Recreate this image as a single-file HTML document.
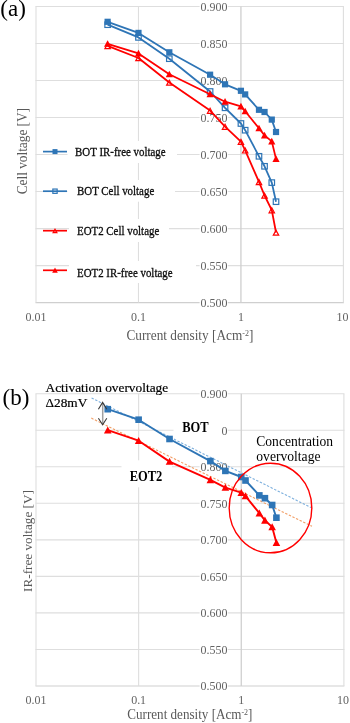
<!DOCTYPE html>
<html><head><meta charset="utf-8"><title>Figure</title><style>
html,body{margin:0;padding:0;background:#fff;}
body{width:350px;height:723px;overflow:hidden;}
svg{display:block;filter:blur(0.35px);}
text{font-family:"Liberation Serif","Times New Roman",serif;}
.ax{font-size:12.96px;fill:#636363;}
.ti{font-size:13px;fill:#595959;}
.lg{font-size:12px;fill:#0d0d0d;stroke:#0d0d0d;stroke-width:0.3px;}
.an{font-size:14px;fill:#000;}
.bd{font-size:15.6px;fill:#000;font-weight:bold;}
</style></head><body>
<svg width="350" height="723" viewBox="0 0 350 723">
<rect width="350" height="723" fill="#fff"/>
<g id="chart-a">
<line x1="35.5" y1="6.50" x2="343.9" y2="6.50" stroke="#dedede" stroke-width="1.1"/>
<line x1="35.5" y1="43.51" x2="343.9" y2="43.51" stroke="#dedede" stroke-width="1.1"/>
<line x1="35.5" y1="80.53" x2="343.9" y2="80.53" stroke="#dedede" stroke-width="1.1"/>
<line x1="35.5" y1="117.54" x2="343.9" y2="117.54" stroke="#dedede" stroke-width="1.1"/>
<line x1="35.5" y1="154.55" x2="343.9" y2="154.55" stroke="#dedede" stroke-width="1.1"/>
<line x1="35.5" y1="191.56" x2="343.9" y2="191.56" stroke="#dedede" stroke-width="1.1"/>
<line x1="35.5" y1="228.58" x2="343.9" y2="228.58" stroke="#dedede" stroke-width="1.1"/>
<line x1="35.5" y1="265.59" x2="343.9" y2="265.59" stroke="#dedede" stroke-width="1.1"/>
<line x1="35.5" y1="302.60" x2="343.9" y2="302.60" stroke="#cfcfcf" stroke-width="1.1"/>
<line x1="36.00" y1="6.50" x2="36.00" y2="302.60" stroke="#dedede" stroke-width="1.1"/>
<line x1="138.47" y1="6.50" x2="138.47" y2="302.60" stroke="#dedede" stroke-width="1.1"/>
<line x1="343.40" y1="6.50" x2="343.40" y2="302.60" stroke="#dedede" stroke-width="1.1"/>
<line x1="240.93" y1="6.50" x2="240.93" y2="302.60" stroke="#cfcfcf" stroke-width="1.3"/>
<rect x="199.6" y="1.50" width="28.2" height="10" fill="#fff"/>
<text transform="translate(227.5,10.90) scale(0.926,1)" text-anchor="end" class="ax">0.900</text>
<rect x="199.6" y="38.51" width="28.2" height="10" fill="#fff"/>
<text transform="translate(227.5,47.91) scale(0.926,1)" text-anchor="end" class="ax">0.850</text>
<rect x="199.6" y="75.53" width="28.2" height="10" fill="#fff"/>
<text transform="translate(227.5,84.93) scale(0.926,1)" text-anchor="end" class="ax">0.800</text>
<rect x="199.6" y="112.54" width="28.2" height="10" fill="#fff"/>
<text transform="translate(227.5,121.94) scale(0.926,1)" text-anchor="end" class="ax">0.750</text>
<rect x="199.6" y="149.55" width="28.2" height="10" fill="#fff"/>
<text transform="translate(227.5,158.95) scale(0.926,1)" text-anchor="end" class="ax">0.700</text>
<rect x="199.6" y="186.56" width="28.2" height="10" fill="#fff"/>
<text transform="translate(227.5,195.96) scale(0.926,1)" text-anchor="end" class="ax">0.650</text>
<rect x="199.6" y="223.58" width="28.2" height="10" fill="#fff"/>
<text transform="translate(227.5,232.98) scale(0.926,1)" text-anchor="end" class="ax">0.600</text>
<rect x="199.6" y="260.59" width="28.2" height="10" fill="#fff"/>
<text transform="translate(227.5,269.99) scale(0.926,1)" text-anchor="end" class="ax">0.550</text>
<rect x="199.6" y="297.60" width="28.2" height="10" fill="#fff"/>
<text transform="translate(227.5,307.00) scale(0.926,1)" text-anchor="end" class="ax">0.500</text>
<text transform="translate(36.00,320.80) scale(0.926,1)" text-anchor="middle" class="ax">0.01</text>
<text transform="translate(138.47,320.80) scale(0.926,1)" text-anchor="middle" class="ax">0.1</text>
<text transform="translate(240.93,320.80) scale(0.926,1)" text-anchor="middle" class="ax">1</text>
<text transform="translate(342.50,320.80) scale(0.926,1)" text-anchor="middle" class="ax">10</text>
<text transform="translate(126.4,340.2) scale(0.926,1)" class="ti" style="font-size:14.36px">Current density [Acm<tspan dy="-4.3" font-size="8.6">-2</tspan><tspan dy="4.3">]</tspan></text>
<text transform="translate(26.6,194.3) rotate(-90) scale(0.909,1)" class="ti" style="font-size:14.63px">Cell voltage [V]</text>
<text x="0.3" y="15.8" font-size="23" fill="#000">(a)</text>
<polyline points="107.62,24.70 138.47,37.40 169.31,58.70 210.09,91.50 225.06,107.80 240.93,123.50 245.17,130.20 258.98,156.30 264.55,166.30 271.78,182.60 276.02,201.70" fill="none" stroke="#2e75b6" stroke-width="1.8" stroke-linejoin="round"/>
<rect x="104.87" y="21.95" width="5.50" height="5.50" fill="none" stroke="#2e75b6" stroke-width="1.2"/>
<rect x="135.72" y="34.65" width="5.50" height="5.50" fill="none" stroke="#2e75b6" stroke-width="1.2"/>
<rect x="166.56" y="55.95" width="5.50" height="5.50" fill="none" stroke="#2e75b6" stroke-width="1.2"/>
<rect x="207.34" y="88.75" width="5.50" height="5.50" fill="none" stroke="#2e75b6" stroke-width="1.2"/>
<rect x="222.31" y="105.05" width="5.50" height="5.50" fill="none" stroke="#2e75b6" stroke-width="1.2"/>
<rect x="238.18" y="120.75" width="5.50" height="5.50" fill="none" stroke="#2e75b6" stroke-width="1.2"/>
<rect x="242.42" y="127.45" width="5.50" height="5.50" fill="none" stroke="#2e75b6" stroke-width="1.2"/>
<rect x="256.23" y="153.55" width="5.50" height="5.50" fill="none" stroke="#2e75b6" stroke-width="1.2"/>
<rect x="261.80" y="163.55" width="5.50" height="5.50" fill="none" stroke="#2e75b6" stroke-width="1.2"/>
<rect x="269.03" y="179.85" width="5.50" height="5.50" fill="none" stroke="#2e75b6" stroke-width="1.2"/>
<rect x="273.27" y="198.95" width="5.50" height="5.50" fill="none" stroke="#2e75b6" stroke-width="1.2"/>
<polyline points="107.62,21.80 138.47,32.90 169.31,52.30 210.09,74.70 225.06,84.30 240.93,90.80 245.17,94.40 258.98,109.80 264.55,112.00 271.78,119.60 276.02,132.00" fill="none" stroke="#2e75b6" stroke-width="1.8" stroke-linejoin="round"/>
<rect x="104.52" y="18.70" width="6.2" height="6.2" fill="#2e75b6"/>
<rect x="135.37" y="29.80" width="6.2" height="6.2" fill="#2e75b6"/>
<rect x="166.21" y="49.20" width="6.2" height="6.2" fill="#2e75b6"/>
<rect x="206.99" y="71.60" width="6.2" height="6.2" fill="#2e75b6"/>
<rect x="221.96" y="81.20" width="6.2" height="6.2" fill="#2e75b6"/>
<rect x="237.83" y="87.70" width="6.2" height="6.2" fill="#2e75b6"/>
<rect x="242.07" y="91.30" width="6.2" height="6.2" fill="#2e75b6"/>
<rect x="255.88" y="106.70" width="6.2" height="6.2" fill="#2e75b6"/>
<rect x="261.45" y="108.90" width="6.2" height="6.2" fill="#2e75b6"/>
<rect x="268.68" y="116.50" width="6.2" height="6.2" fill="#2e75b6"/>
<rect x="272.92" y="128.90" width="6.2" height="6.2" fill="#2e75b6"/>
<polyline points="107.62,45.90 138.47,58.00 169.31,82.50 210.09,110.60 225.06,126.60 240.93,141.70 245.17,150.30 258.98,181.90 264.55,195.50 271.78,210.10 276.02,232.50" fill="none" stroke="#ff0000" stroke-width="1.8" stroke-linejoin="round"/>
<polygon points="107.62,43.60 110.32,48.59 104.92,48.59" fill="none" stroke="#ff0000" stroke-width="1.2" stroke-linejoin="miter"/>
<polygon points="138.47,55.70 141.17,60.70 135.77,60.70" fill="none" stroke="#ff0000" stroke-width="1.2" stroke-linejoin="miter"/>
<polygon points="169.31,80.20 172.01,85.20 166.61,85.20" fill="none" stroke="#ff0000" stroke-width="1.2" stroke-linejoin="miter"/>
<polygon points="210.09,108.30 212.79,113.30 207.39,113.30" fill="none" stroke="#ff0000" stroke-width="1.2" stroke-linejoin="miter"/>
<polygon points="225.06,124.30 227.76,129.29 222.36,129.29" fill="none" stroke="#ff0000" stroke-width="1.2" stroke-linejoin="miter"/>
<polygon points="240.93,139.40 243.63,144.39 238.23,144.39" fill="none" stroke="#ff0000" stroke-width="1.2" stroke-linejoin="miter"/>
<polygon points="245.17,148.00 247.87,153.00 242.47,153.00" fill="none" stroke="#ff0000" stroke-width="1.2" stroke-linejoin="miter"/>
<polygon points="258.98,179.60 261.68,184.59 256.28,184.59" fill="none" stroke="#ff0000" stroke-width="1.2" stroke-linejoin="miter"/>
<polygon points="264.55,193.20 267.25,198.19 261.85,198.19" fill="none" stroke="#ff0000" stroke-width="1.2" stroke-linejoin="miter"/>
<polygon points="271.78,207.80 274.48,212.79 269.08,212.79" fill="none" stroke="#ff0000" stroke-width="1.2" stroke-linejoin="miter"/>
<polygon points="276.02,230.20 278.72,235.19 273.32,235.19" fill="none" stroke="#ff0000" stroke-width="1.2" stroke-linejoin="miter"/>
<polyline points="107.62,43.80 138.47,53.40 169.31,74.30 210.09,94.20 225.06,101.70 240.93,106.40 245.17,111.30 258.98,128.30 264.55,135.40 271.78,141.40 276.02,158.90" fill="none" stroke="#ff0000" stroke-width="1.8" stroke-linejoin="round"/>
<polygon points="107.62,40.20 111.22,46.86 104.02,46.86" fill="#ff0000"/>
<polygon points="138.47,49.80 142.07,56.46 134.87,56.46" fill="#ff0000"/>
<polygon points="169.31,70.70 172.91,77.36 165.71,77.36" fill="#ff0000"/>
<polygon points="210.09,90.60 213.69,97.26 206.49,97.26" fill="#ff0000"/>
<polygon points="225.06,98.10 228.66,104.76 221.46,104.76" fill="#ff0000"/>
<polygon points="240.93,102.80 244.53,109.46 237.33,109.46" fill="#ff0000"/>
<polygon points="245.17,107.70 248.77,114.36 241.57,114.36" fill="#ff0000"/>
<polygon points="258.98,124.70 262.58,131.36 255.38,131.36" fill="#ff0000"/>
<polygon points="264.55,131.80 268.15,138.46 260.95,138.46" fill="#ff0000"/>
<polygon points="271.78,137.80 275.38,144.46 268.18,144.46" fill="#ff0000"/>
<polygon points="276.02,155.30 279.62,161.96 272.42,161.96" fill="#ff0000"/>
<rect x="67.5" y="141" width="109.5" height="22" fill="#fff"/>
<line x1="43" y1="151.6" x2="67" y2="151.6" stroke="#2e75b6" stroke-width="1.7"/>
<rect x="52.50" y="149.10" width="5.0" height="5.0" fill="#2e75b6"/>
<text transform="translate(75.1,155.8) scale(0.908,1)" class="lg">BOT IR-free voltage</text>
<rect x="67.5" y="180" width="107.5" height="21.69999999999999" fill="#fff"/>
<line x1="43" y1="191.2" x2="67" y2="191.2" stroke="#2e75b6" stroke-width="1.7"/>
<rect x="52.85" y="189.05" width="4.30" height="4.30" fill="none" stroke="#2e75b6" stroke-width="1.2"/>
<text transform="translate(77.0,194.5) scale(0.908,1)" class="lg">BOT Cell voltage</text>
<rect x="69" y="219" width="100" height="23" fill="#fff"/>
<line x1="43" y1="230.7" x2="67" y2="230.7" stroke="#ff0000" stroke-width="1.7"/>
<polygon points="55.00,229.20 56.90,232.72 53.10,232.72" fill="none" stroke="#ff0000" stroke-width="1.2" stroke-linejoin="miter"/>
<text transform="translate(77.0,234.8) scale(0.908,1)" class="lg">EOT2 Cell voltage</text>
<rect x="69" y="261" width="127" height="22" fill="#fff"/>
<line x1="43" y1="270.3" x2="67" y2="270.3" stroke="#ff0000" stroke-width="1.7"/>
<polygon points="55.00,267.50 57.80,272.68 52.20,272.68" fill="#ff0000"/>
<text transform="translate(77.0,276.5) scale(0.908,1)" class="lg">EOT2 IR-free voltage</text>
</g>
<g id="chart-b">
<line x1="35.5" y1="393.70" x2="344.4" y2="393.70" stroke="#dedede" stroke-width="1.1"/>
<line x1="35.5" y1="430.24" x2="344.4" y2="430.24" stroke="#dedede" stroke-width="1.1"/>
<line x1="35.5" y1="466.77" x2="344.4" y2="466.77" stroke="#dedede" stroke-width="1.1"/>
<line x1="35.5" y1="503.31" x2="344.4" y2="503.31" stroke="#dedede" stroke-width="1.1"/>
<line x1="35.5" y1="539.85" x2="344.4" y2="539.85" stroke="#dedede" stroke-width="1.1"/>
<line x1="35.5" y1="576.39" x2="344.4" y2="576.39" stroke="#dedede" stroke-width="1.1"/>
<line x1="35.5" y1="612.92" x2="344.4" y2="612.92" stroke="#dedede" stroke-width="1.1"/>
<line x1="35.5" y1="649.46" x2="344.4" y2="649.46" stroke="#dedede" stroke-width="1.1"/>
<line x1="35.5" y1="686.00" x2="344.4" y2="686.00" stroke="#cfcfcf" stroke-width="1.1"/>
<line x1="36.00" y1="393.70" x2="36.00" y2="686.00" stroke="#dedede" stroke-width="1.1"/>
<line x1="138.63" y1="393.70" x2="138.63" y2="686.00" stroke="#dedede" stroke-width="1.1"/>
<line x1="343.90" y1="393.70" x2="343.90" y2="686.00" stroke="#dedede" stroke-width="1.1"/>
<line x1="241.27" y1="393.70" x2="241.27" y2="686.00" stroke="#cfcfcf" stroke-width="1.3"/>
<rect x="199.6" y="388.70" width="28.2" height="10" fill="#fff"/>
<text transform="translate(227.5,398.10) scale(0.926,1)" text-anchor="end" class="ax">0.900</text>
<rect x="199.6" y="425.24" width="28.2" height="10" fill="#fff"/>
<text transform="translate(227.5,434.64) scale(0.926,1)" text-anchor="end" class="ax">0.850</text>
<rect x="199.6" y="461.77" width="28.2" height="10" fill="#fff"/>
<text transform="translate(227.5,471.17) scale(0.926,1)" text-anchor="end" class="ax">0.800</text>
<rect x="199.6" y="498.31" width="28.2" height="10" fill="#fff"/>
<text transform="translate(227.5,507.71) scale(0.926,1)" text-anchor="end" class="ax">0.750</text>
<rect x="199.6" y="534.85" width="28.2" height="10" fill="#fff"/>
<text transform="translate(227.5,544.25) scale(0.926,1)" text-anchor="end" class="ax">0.700</text>
<rect x="199.6" y="571.39" width="28.2" height="10" fill="#fff"/>
<text transform="translate(227.5,580.79) scale(0.926,1)" text-anchor="end" class="ax">0.650</text>
<rect x="199.6" y="607.92" width="28.2" height="10" fill="#fff"/>
<text transform="translate(227.5,617.32) scale(0.926,1)" text-anchor="end" class="ax">0.600</text>
<rect x="199.6" y="644.46" width="28.2" height="10" fill="#fff"/>
<text transform="translate(227.5,653.86) scale(0.926,1)" text-anchor="end" class="ax">0.550</text>
<rect x="199.6" y="681.00" width="28.2" height="10" fill="#fff"/>
<text transform="translate(227.5,690.40) scale(0.926,1)" text-anchor="end" class="ax">0.500</text>
<text transform="translate(36.00,703.60) scale(0.926,1)" text-anchor="middle" class="ax">0.01</text>
<text transform="translate(138.63,703.60) scale(0.926,1)" text-anchor="middle" class="ax">0.1</text>
<text transform="translate(241.27,703.60) scale(0.926,1)" text-anchor="middle" class="ax">1</text>
<text transform="translate(343.00,703.60) scale(0.926,1)" text-anchor="middle" class="ax">10</text>
<text transform="translate(127.3,719.4) scale(0.926,1)" class="ti" style="font-size:14.15px">Current density [Acm<tspan dy="-4.3" font-size="8.6">-2</tspan><tspan dy="4.3">]</tspan></text>
<text transform="translate(32.4,591.9) rotate(-90)" class="ti" style="font-size:13.2px">IR-free voltage [V]</text>
<text x="2.6" y="404.8" font-size="23" fill="#000">(b)</text>
<rect x="173.5" y="418" width="48" height="22" fill="#fff"/>
<rect x="121.5" y="460.3" width="50.5" height="27" fill="#fff"/>
<line x1="91.6" y1="398.0" x2="311.5" y2="507.8" stroke="#5b9bd5" stroke-opacity="0.8" stroke-width="1.1" stroke-dasharray="2.4 1.6"/>
<line x1="91.3" y1="418.1" x2="312.0" y2="526.3" stroke="#ed7d31" stroke-opacity="0.75" stroke-width="1.1" stroke-dasharray="2.4 1.6"/>
<polyline points="107.74,409.20 138.63,419.70 169.53,439.00 210.37,461.10 225.37,470.90 241.27,477.00 245.51,480.50 259.34,495.40 264.92,498.20 272.16,505.00 276.41,517.70" fill="none" stroke="#2e75b6" stroke-width="1.9" stroke-linejoin="round"/>
<rect x="104.44" y="405.90" width="6.6" height="6.6" fill="#2e75b6"/>
<rect x="135.33" y="416.40" width="6.6" height="6.6" fill="#2e75b6"/>
<rect x="166.23" y="435.70" width="6.6" height="6.6" fill="#2e75b6"/>
<rect x="207.07" y="457.80" width="6.6" height="6.6" fill="#2e75b6"/>
<rect x="222.07" y="467.60" width="6.6" height="6.6" fill="#2e75b6"/>
<rect x="237.97" y="473.70" width="6.6" height="6.6" fill="#2e75b6"/>
<rect x="242.21" y="477.20" width="6.6" height="6.6" fill="#2e75b6"/>
<rect x="256.04" y="492.10" width="6.6" height="6.6" fill="#2e75b6"/>
<rect x="261.62" y="494.90" width="6.6" height="6.6" fill="#2e75b6"/>
<rect x="268.86" y="501.70" width="6.6" height="6.6" fill="#2e75b6"/>
<rect x="273.11" y="514.40" width="6.6" height="6.6" fill="#2e75b6"/>
<polyline points="107.74,430.20 138.63,440.70 169.53,461.60 210.37,479.90 225.37,487.60 241.27,492.70 245.51,496.10 259.34,513.20 264.92,520.40 272.16,527.00 276.41,542.70" fill="none" stroke="#ff0000" stroke-width="1.9" stroke-linejoin="round"/>
<polygon points="107.74,426.40 111.54,433.43 103.94,433.43" fill="#ff0000"/>
<polygon points="138.63,436.90 142.43,443.93 134.83,443.93" fill="#ff0000"/>
<polygon points="169.53,457.80 173.33,464.83 165.73,464.83" fill="#ff0000"/>
<polygon points="210.37,476.10 214.17,483.13 206.57,483.13" fill="#ff0000"/>
<polygon points="225.37,483.80 229.17,490.83 221.57,490.83" fill="#ff0000"/>
<polygon points="241.27,488.90 245.07,495.93 237.47,495.93" fill="#ff0000"/>
<polygon points="245.51,492.30 249.31,499.33 241.71,499.33" fill="#ff0000"/>
<polygon points="259.34,509.40 263.14,516.43 255.54,516.43" fill="#ff0000"/>
<polygon points="264.92,516.60 268.72,523.63 261.12,523.63" fill="#ff0000"/>
<polygon points="272.16,523.20 275.96,530.23 268.36,530.23" fill="#ff0000"/>
<polygon points="276.41,538.90 280.21,545.93 272.61,545.93" fill="#ff0000"/>
<text x="45.5" y="391.5" class="an" style="font-size:13.35px;stroke:#000;stroke-width:0.2px">Activation overvoltage</text>
<text x="45.5" y="407" class="an" style="font-size:13.3px;stroke:#000;stroke-width:0.2px">Δ28mV</text>
<text transform="translate(182.2,431.6) scale(0.8,1)" class="bd">BOT</text>
<text transform="translate(129.8,480.6) scale(0.8,1)" class="bd">EOT2</text>
<text x="256.3" y="445.5" class="an" style="font-size:13.55px">Concentration</text>
<text x="256.3" y="461.2" class="an" style="font-size:13.6px">overvoltage</text>
<ellipse cx="270.5" cy="508" rx="41.3" ry="44.8" fill="none" stroke="#ff0000" stroke-width="1.4"/>
<line x1="102.7" y1="403" x2="102.7" y2="424" stroke="#a0a0a0" stroke-width="1.5"/>
<g stroke="#3a3a3a" stroke-width="1.1" fill="none" stroke-linejoin="miter">
<polyline points="98.4,409.2 102.6,402.4 106.8,409.2"/>
<polyline points="98.4,418.2 102.6,424.8 106.8,418.2"/>
</g>
</g>
</svg>
</body></html>
